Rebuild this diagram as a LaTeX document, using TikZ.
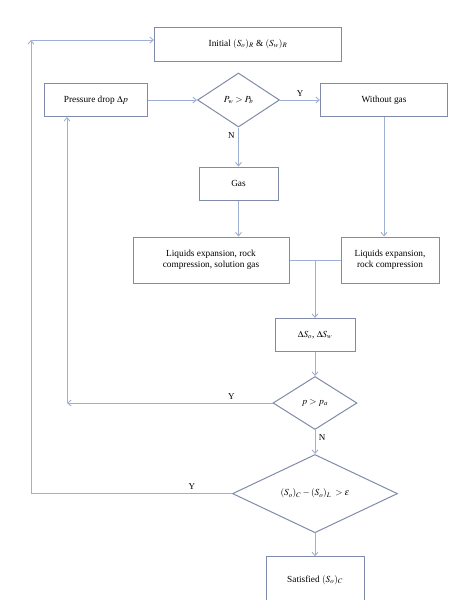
\documentclass[tikz,border=0pt]{standalone}
\usepackage{mathptmx}
\usepackage[no-math]{fontspec}
\setmainfont{Liberation Serif}
\usetikzlibrary{shapes.geometric, arrows.meta, positioning}

\definecolor{linkblue}{RGB}{160,175,212}
\definecolor{framegray}{RGB}{128,138,170}

\begin{document}
\begin{tikzpicture}[
    x=1pt, y=-1pt,
    node distance=24pt and 40pt,
    procbox/.style={rectangle, draw=framegray, line width=1pt, minimum height=33pt, align=center, font=\fontsize{9.3}{11.5}\selectfont, inner sep=2pt},
    decision/.style={diamond, draw=framegray, line width=1pt, inner sep=0pt, align=center, font=\fontsize{9.3}{11.5}\selectfont},
    arrow/.style={-{Straight Barb[length=3.5pt, width=6pt]}, draw=linkblue, line width=0.9pt},
    link/.style={draw=linkblue, line width=0.9pt},
    tag/.style={font=\fontsize{9}{10}\selectfont},
]
    \useasboundingbox (0,0) rectangle (474,600);

    % Top row
    \node[procbox, minimum width=187pt, minimum height=34pt] (init) at (248,44) {Initial $(S_o)_R$ \& $(S_w)_R$};
    \node[procbox, minimum width=103pt] (press) at (96,100) {Pressure drop $\Delta p$};
    \node[decision, minimum width=82pt, minimum height=54pt, right=49pt of press] (bubble) {$P_w > P_b$};
    \node[procbox, minimum width=127pt, right=40pt of bubble] (nogas) {Without gas};

    % Gas branch
    \node[procbox, minimum width=79pt, below=39pt of bubble] (gas) {Gas};
    \node[procbox, minimum width=156pt, minimum height=46pt] (liqgas) at (211,260) {Liquids expansion, rock\\compression, solution gas};
    \node[procbox, minimum width=98pt, minimum height=46pt] (liqnogas) at (390,260) {Liquids expansion,\\rock compression};

    % Lower chain
    \node[procbox, minimum width=80pt] (dsat) at (315,335) {$\Delta S_o$, $\Delta S_w$};
    \node[decision, minimum width=84pt, minimum height=53pt, below=of dsat] (abandon) {$p > p_a$};
    \node[decision, minimum width=165pt, minimum height=51pt, below=of abandon] (converge) {$(S_o)_C - (S_o)_L \;> \varepsilon$};
    \node[procbox, minimum width=98pt, minimum height=46pt, below=23pt of converge] (done) {Satisfied $(S_o)_C$};

    % Helper points
    \coordinate (merge) at (dsat.north |- liqgas.east);
    \coordinate (outer) at (31,40);
    \coordinate (innerx) at (67,0);
    \coordinate (inner) at (innerx |- abandon.west);

    % Connectors
    \draw[arrow] (press) -- (bubble);
    \draw[arrow] (bubble) -- node[tag, above] {Y} (nogas);
    \draw[arrow] (bubble) -- node[tag, left, pos=0.2] {N} (gas);
    \draw[arrow] (gas.south) -- (gas.south |- liqgas.north);
    \draw[arrow] (nogas.south) -- (nogas.south |- liqnogas.north);
    \draw[link] (liqgas.east) -- (liqnogas.west);
    \draw[arrow] (merge) -- (dsat);
    \draw[arrow] (dsat) -- (abandon);
    \draw[arrow] (abandon) -- node[tag, right, pos=0.3] {N} (converge);
    \draw[arrow] (converge) -- (done);

    % Loops back
    \draw[arrow] (abandon.west) -- node[tag, above, pos=0.2] {Y} (inner);
    \draw[arrow] (inner) -- (inner |- press.south);
    \draw[arrow] (converge.west) -- node[tag, above, pos=0.2] {Y} (outer |- converge.west) -- (outer);
    \draw[arrow] (outer) -- (init.west |- outer);

\end{tikzpicture}
\end{document}
